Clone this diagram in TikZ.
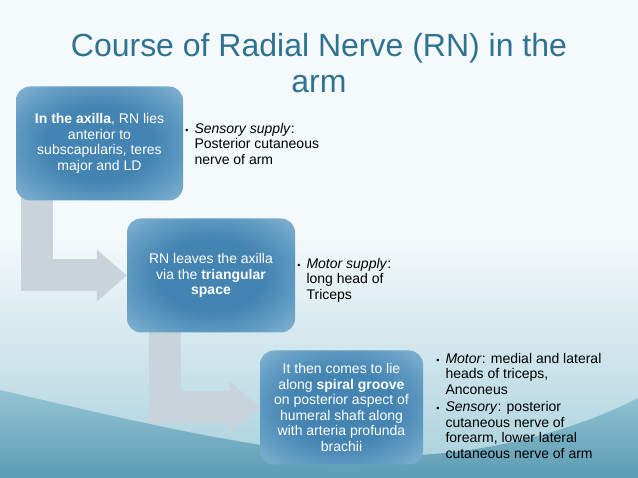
\documentclass[tikz,border=0pt]{standalone}
\usepackage{fontspec}
\setmainfont{Liberation Sans}
\usetikzlibrary{positioning,calc,arrows.meta}
\definecolor{titleblue}{RGB}{47,115,145}
\definecolor{boxin}{RGB}{68,132,178}
\definecolor{boxmid}{RGB}{96,155,194}
\definecolor{boxout}{RGB}{150,192,216}
\definecolor{arrowgray}{RGB}{200,211,219}
\definecolor{paper}{RGB}{244,249,251}
\definecolor{lightteal}{RGB}{168,208,220}
\definecolor{waveup}{RGB}{148,196,211}
\definecolor{wavedown}{RGB}{92,156,180}
\pgfdeclarelayer{bg}
\pgfsetlayers{bg,main}
\pgfdeclareradialshading{boxglow}{\pgfpoint{0bp}{0bp}}{color(0bp)=(boxin); color(16bp)=(boxin); color(26bp)=(boxmid); color(40bp)=(boxout); color(50bp)=(boxout)}

\begin{document}
\begin{tikzpicture}[x=1pt,y=1pt]
% --- Layout & Styles --------------------------------------
\tikzstyle{stage box}=[shade, shading=boxglow, rounded corners=14pt, minimum width=167pt, minimum height=114pt, inner sep=0pt, align=center, text=white, font=\fontsize{14}{15.5}\selectfont]
\tikzstyle{supply}=[inner sep=0pt, font=\fontsize{14}{15.5}\selectfont]
\tikzstyle{turn arrow}=[arrowgray, line width=32pt, -{Triangle[length=30pt,width=50pt]}]
\useasboundingbox (0,0) rectangle (638,478);

% --- Title ------------------------------------------------
\node (title) at (319,415) [text=titleblue, align=center, font=\fontsize{32}{36}\selectfont] {Course of Radial Nerve (RN) in the\\arm};

% --- Stages -----------------------------------------------
\node (b1) at (99.5,334.5) [stage box] {\textbf{In the axilla}, RN lies\\anterior to\\subscapularis, teres\\major and LD};
\node (b2) at (211,202.5) [stage box, minimum width=168pt] {RN leaves the axilla\\via the \textbf{triangular}\\\textbf{space}};
\node (b3) at (341.5,70.5) [stage box, minimum width=163pt] {It then comes to lie\\along \textbf{spiral groove}\\on posterior aspect of\\humeral shaft along\\with arteria profunda\\brachii};

% --- Supplies ---------------------------------------------
\node (s1) [supply, right=2pt of b1, yshift=-2pt] {\begin{tabular}{@{}l@{\hspace{6pt}}l@{}}
{\small\textbullet} & \textit{Sensory supply}:\\
 & Posterior cutaneous\\
 & nerve of arm
\end{tabular}};
\node (s2) [supply, right=2pt of b2, yshift=-5pt] {\begin{tabular}{@{}l@{\hspace{6pt}}l@{}}
{\small\textbullet} & \textit{Motor supply}:\\
 & long head of\\
 & Triceps
\end{tabular}};
\node (s3) [supply, right=13pt of b3] {\begin{tabular}{@{}l@{\hspace{6pt}}l@{}}
{\small\textbullet} & \textit{Motor}: medial and lateral\\
 & heads of triceps,\\
 & Anconeus\\[2pt]
{\small\textbullet} & \textit{Sensory}: posterior\\
 & cutaneous nerve of\\
 & forearm, lower lateral\\
 & cutaneous nerve of arm
\end{tabular}};

% --- Background & arrows ----------------------------------
\begin{pgfonlayer}{bg}
\fill[paper] (0,0) rectangle (638,478);
\shade[top color=paper, bottom color=lightteal] (0,0) rectangle (638,240);
\shade[top color=waveup, bottom color=wavedown] (0,88) .. controls (120,60) and (230,34) .. (330,24) .. controls (450,14) and (560,40) .. (638,80) -- (638,0) -- (0,0) -- cycle;
\draw[turn arrow] ($(b1.south west)+(21.5pt,10pt)$) |- (b2.west);
\draw[turn arrow] ($(b2.south west)+(38pt,10pt)$) |- (b3.west);
\end{pgfonlayer}

\end{tikzpicture}
\end{document}
